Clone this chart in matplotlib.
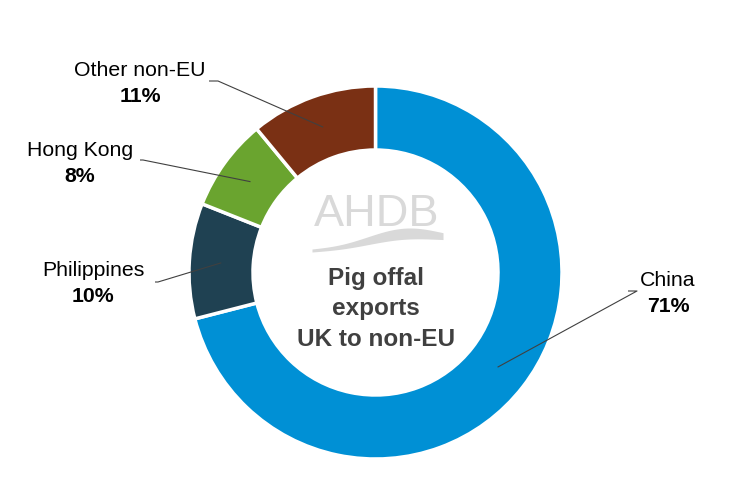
import matplotlib.pyplot as plt
import numpy as np

W, H = 729, 485

# data
categories = ['China', 'Philippines', 'Hong Kong', 'Other non-EU']
shares = [71, 10, 8, 11]
colors = ['#0090D5', '#1F4152', '#6AA42F', '#7A3014']

# label layout (pixel coords, y down): text centre, elbow end, elbow start
label_pos = [(668, 281), (93, 271), (80, 151), (140, 71)]
elbow = [((628, 292), (637, 292)), ((155, 283), (158, 283)),
         ((140, 161), (143, 161)), ((209, 82), (218, 82))]

plt.rcParams['font.family'] = ['Liberation Sans', 'DejaVu Sans']

fig = plt.figure(figsize=(W / 100, H / 100), dpi=100)
ax = fig.add_axes([0, 0, 1, 1])

cx, cy = 375.5, H - 273.5
R = 186.5
ring = 64

wedges, _ = ax.pie(shares, colors=colors, startangle=90, counterclock=False,
                   center=(cx, cy), radius=R, frame=True,
                   wedgeprops=dict(width=ring, edgecolor='white', linewidth=2.5))
ax.set_xlim(0, W)
ax.set_ylim(0, H)
ax.set_aspect('equal')
ax.axis('off')

for i, w in enumerate(wedges):
    mid = np.deg2rad((w.theta1 + w.theta2) / 2)
    r = R - ring / 2
    px, py = cx + r * np.cos(mid), cy + r * np.sin(mid)
    (x0, y0), (x1, y1) = elbow[i]
    ax.plot([x0, x1, px], [H - y0, H - y1, py], color='#404040', lw=0.8,
            solid_capstyle='butt')
    lx, ly = label_pos[i]
    ax.text(lx, H - ly, categories[i], ha='center', va='center',
            fontsize=15.3, color='black')
    ax.text(lx, H - ly - 26, f'{shares[i]}%', ha='center', va='center',
            fontsize=15.3, fontweight='bold', color='black')

# AHDB logo watermark
ax.text(377, H - 215, 'AHDB', ha='center', va='center', fontsize=32.5,
        color='#D9D9D9')
t = np.linspace(0, 1, 60)
sx = 312 + 131 * t
upper = 250 - 14 * np.sin(np.pi * t * 0.9) + 4 * np.sin(2 * np.pi * t) - 12 * t ** 3
lower = 253 - 8 * np.sin(np.pi * t * 0.9) + 2 * np.sin(2 * np.pi * t) - 10 * t ** 3
ax.fill_between(sx, H - upper, H - lower, color='#D9D9D9', lw=0)

# centre title
for txt, y in [('Pig offal', 279), ('exports', 309), ('UK to non-EU', 340)]:
    ax.text(376, H - y, txt, ha='center', va='center', fontsize=17.5,
            fontweight='bold', color='#404040')

fig.savefig('out.png', dpi=100)
